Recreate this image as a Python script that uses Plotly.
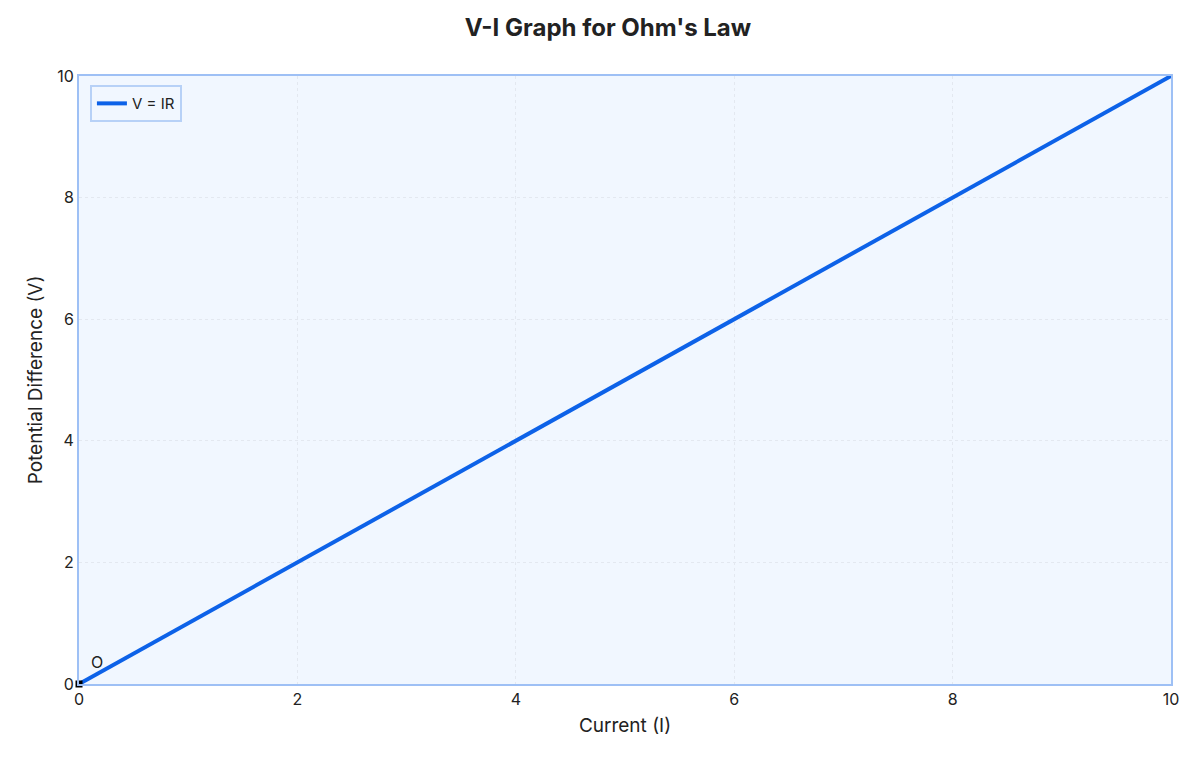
import plotly.graph_objects as go

current = [0, 10]
voltage = [0, 10]
ticks = [0, 2, 4, 6, 8, 10]

fig = go.Figure()
fig.add_trace(go.Scatter(x=current, y=voltage, mode="lines", name="V = IR",
                         line=dict(color="#0d62e8", width=4)))
fig.add_trace(go.Scatter(x=[0], y=[0], mode="markers", showlegend=False,
                         marker=dict(color="black", size=7, symbol="square"), cliponaxis=False))
fig.add_annotation(x=0, y=0, text="O", showarrow=False, xshift=18, yshift=22,
                   font=dict(size=16, color="#222"))
ax = dict(range=[0, 10], tickvals=ticks, showgrid=True, gridcolor="#e3e8f0", griddash="dot",
          zeroline=False, showline=True, linecolor="#9ec0f5", linewidth=2, mirror=True,
          ticks="", tickfont=dict(size=16, color="#222"))
fig.update_layout(
    width=1200, height=761, paper_bgcolor="white", plot_bgcolor="#f1f7ff",
    font=dict(family="Inter, sans-serif", color="#222"),
    title=dict(text="<b>V-I Graph for Ohm's Law</b>", x=0.5, y=0.985, yanchor="top",
               font=dict(size=24, color="#222")),
    margin=dict(l=71, r=37, t=68, b=85),
    xaxis=dict(ax, title=dict(text="Current (I)", font=dict(size=19), standoff=10)),
    yaxis=dict(ax, title=dict(text="Potential Difference (V)", font=dict(size=19), standoff=10)),
    legend=dict(x=0.01, y=0.985, bgcolor="#f1f7ff", bordercolor="#b7d1f7", borderwidth=2,
                font=dict(size=15)),
)
fig.write_html("out.html")
